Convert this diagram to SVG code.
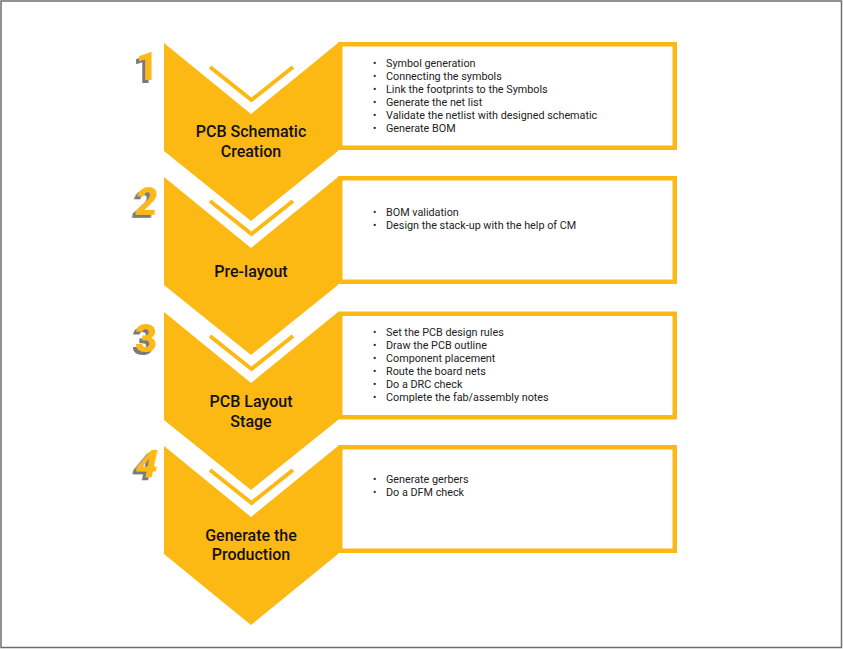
<svg xmlns="http://www.w3.org/2000/svg" width="843" height="649" viewBox="0 0 843 649">
<defs>
<filter id="sh" x="-40%" y="-30%" width="180%" height="170%">
<feFlood flood-color="#7a7a7a"/>
<feComposite in2="SourceAlpha" operator="in"/>
<feOffset dx="-3" dy="3" result="s"/>
<feMerge><feMergeNode in="s"/><feMergeNode in="SourceGraphic"/></feMerge>
</filter>
</defs>
<style>
.chev{fill:#FDB913}
.vline{fill:none;stroke:#FDB913;stroke-width:4;stroke-linecap:butt;stroke-linejoin:miter}
.box{fill:#fff;stroke:#FDB913;stroke-width:4.5}
.num{font-family:Roboto,"Liberation Sans",sans-serif;font-weight:900;font-size:38px;fill:#FDB913;filter:url(#sh)}
.lbl{font-family:Roboto,"Liberation Sans",sans-serif;font-weight:500;font-size:16px;fill:#111;text-anchor:middle}
.li{font-family:Roboto,"Liberation Sans",sans-serif;font-size:10.8px;fill:#222}
.bul{font-family:Roboto,"Liberation Sans",sans-serif;font-size:10px;fill:#222}
</style>
<rect x="0" y="0" width="843" height="649" fill="#fff"/>
<rect x="1" y="1" width="840.5" height="646.5" fill="none" stroke="#6f6f6f" stroke-width="1.5"/>

<g id="step1">
<path class="chev" d="M164,43 L251,114 L338,43 L338,151 L251,221 L164,151 Z"/>
<path class="vline" d="M210,67 L251.5,100 L293,67"/>
<text class="num" x="136" y="80">1</text>
<text class="lbl" x="251" y="137">PCB Schematic</text>
<text class="lbl" x="251" y="157">Creation</text>
<rect class="box" x="340.25" y="44.25" width="334.5" height="103.5"/>
<text class="bul" x="373" y="67">•</text><text class="li" x="386" y="67">Symbol generation</text>
<text class="bul" x="373" y="80">•</text><text class="li" x="386" y="80">Connecting the symbols</text>
<text class="bul" x="373" y="93">•</text><text class="li" x="386" y="93">Link the footprints to the Symbols</text>
<text class="bul" x="373" y="106">•</text><text class="li" x="386" y="106">Generate the net list</text>
<text class="bul" x="373" y="119">•</text><text class="li" x="386" y="119">Validate the netlist with designed schematic</text>
<text class="bul" x="373" y="132">•</text><text class="li" x="386" y="132">Generate BOM</text>
</g>

<g id="step2">
<path class="chev" d="M164,177 L251,248 L338,177 L338,285 L251,355 L164,285 Z"/>
<path class="vline" d="M210,201 L251.5,234 L293,201"/>
<text class="num" x="135" y="215" transform="skewX(-8) translate(29,0)">2</text>
<text class="lbl" x="251" y="277">Pre-layout</text>
<rect class="box" x="340.25" y="178.25" width="334.5" height="103.5"/>
<text class="bul" x="373" y="216">•</text><text class="li" x="386" y="216">BOM validation</text>
<text class="bul" x="373" y="229">•</text><text class="li" x="386" y="229">Design the stack-up with the help of CM</text>
</g>

<g id="step3">
<path class="chev" d="M164,312 L251,383 L338,312 L338,420 L251,490 L164,420 Z"/>
<path class="vline" d="M210,336 L251.5,369 L293,336"/>
<text class="num" x="135" y="352">3</text>
<text class="lbl" x="251" y="407">PCB Layout</text>
<text class="lbl" x="251" y="427">Stage</text>
<rect class="box" x="340.25" y="313.75" width="334.5" height="103.5"/>
<text class="bul" x="373" y="336">•</text><text class="li" x="386" y="336">Set the PCB design rules</text>
<text class="bul" x="373" y="349">•</text><text class="li" x="386" y="349">Draw the PCB outline</text>
<text class="bul" x="373" y="362">•</text><text class="li" x="386" y="362">Component placement</text>
<text class="bul" x="373" y="375">•</text><text class="li" x="386" y="375">Route the board nets</text>
<text class="bul" x="373" y="388">•</text><text class="li" x="386" y="388">Do a DRC check</text>
<text class="bul" x="373" y="401">•</text><text class="li" x="386" y="401">Complete the fab/assembly notes</text>
</g>

<g id="step4">
<path class="chev" d="M164,446 L251,517 L338,446 L338,554 L251,625 L164,554 Z"/>
<path class="vline" d="M210,470 L251.5,503 L293,470"/>
<text class="num" x="134" y="477" transform="skewX(-12) translate(101,0)">4</text>
<text class="lbl" x="251" y="541">Generate the</text>
<text class="lbl" x="251" y="560">Production</text>
<rect class="box" x="340.25" y="447.25" width="334.5" height="103.5"/>
<text class="bul" x="373" y="483">•</text><text class="li" x="386" y="483">Generate gerbers</text>
<text class="bul" x="373" y="496">•</text><text class="li" x="386" y="496">Do a DFM check</text>
</g>
</svg>
